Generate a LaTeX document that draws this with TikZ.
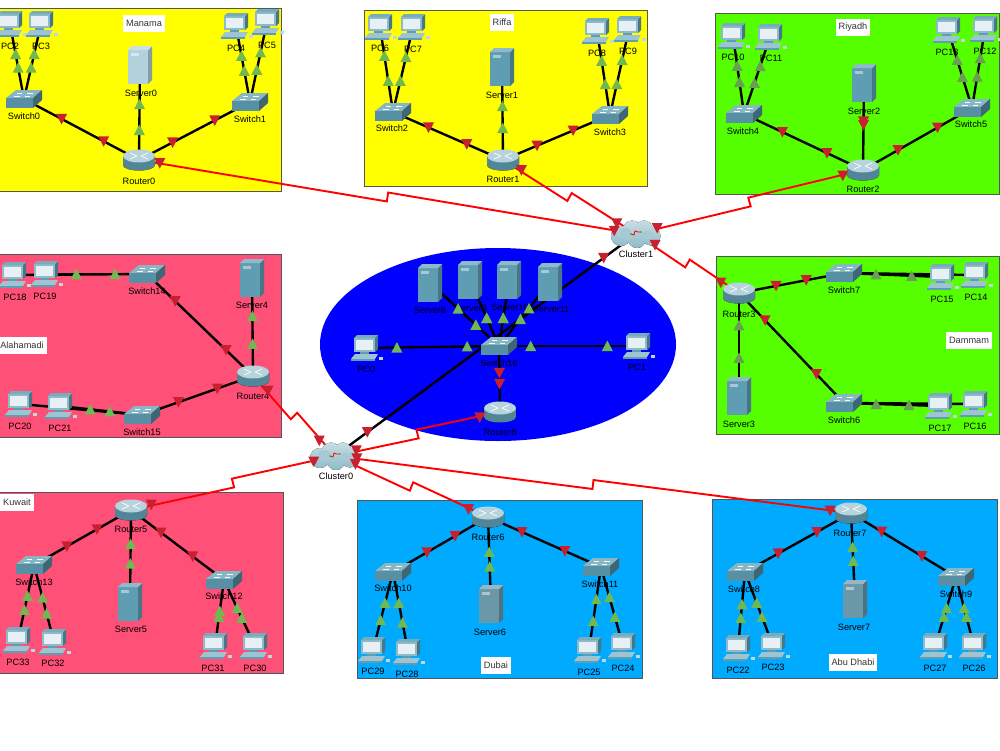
\documentclass[tikz,border=0pt]{standalone}
\usepackage{fontspec}
\setmainfont{Liberation Sans}
\usetikzlibrary{calc}

\definecolor{zoneyellow}{HTML}{FFFF00}
\definecolor{zonegreen}{HTML}{55FF00}
\definecolor{zonepink}{HTML}{FF5078}
\definecolor{zoneblue}{HTML}{00AAFF}
\definecolor{coreblue}{HTML}{0000FF}
\definecolor{zoneedge}{HTML}{555555}
\definecolor{triared}{HTML}{C8202F}
\definecolor{triagreen}{HTML}{70B850}
\definecolor{triadim}{HTML}{689F55}
\definecolor{srvteal}{HTML}{5F9DB2}
\definecolor{srvgray}{HTML}{6A98A8}
\definecolor{srvpale}{HTML}{B3D1DC}

\pgfdeclarelayer{zones}
\pgfdeclarelayer{links}
\pgfdeclarelayer{marks}
\pgfsetlayers{zones,links,main,marks}

\newcommand{\pcicon}{%
  \begin{scope}[shift={(path picture bounding box.center)},x=1pt,y=-1pt]
    \fill[srvteal!70!white] (-12,-10) rectangle (9,4);
    \fill[srvteal!75!black] (9,-10) -- (12,-13) -- (12,1) -- (9,4) -- cycle;
    \fill[srvteal!85!white] (-12,-10) -- (-9,-13) -- (12,-13) -- (9,-10) -- cycle;
    \fill[white!85!srvteal] (-10,-8) rectangle (7,2);
    \fill[srvteal] (-6,4) rectangle (3,6);
    \fill[srvteal!60!white] (-15,11) -- (-11,6) -- (12,6) -- (9,11) -- cycle;
    \fill[srvteal] (-15,11) rectangle (9,13);
    \fill[white!60!srvteal] (13,9) rectangle (17,12);
  \end{scope}}
\newcommand{\servericon}[1]{%
  \begin{scope}[shift={(path picture bounding box.center)},x=1pt,y=-1pt]
    \fill[#1] (-12,-15) rectangle (8,19);
    \fill[#1!75!black] (8,-15) -- (12,-19) -- (12,15) -- (8,19) -- cycle;
    \fill[#1!70!white] (-12,-15) -- (-8,-19) -- (12,-19) -- (8,-15) -- cycle;
    \fill[#1!55!white] (-9,-12) rectangle (-1,-9);
  \end{scope}}
\newcommand{\switchicon}{%
  \begin{scope}[shift={(path picture bounding box.center)},x=1pt,y=-1pt]
    \fill[srvteal!75!white] (-18,-1) -- (-8,-9) -- (18,-9) -- (9,-1) -- cycle;
    \fill[srvteal!92!black] (-18,-1) rectangle (9,9);
    \fill[srvteal!65!black] (9,-1) -- (18,-9) -- (18,1) -- (9,9) -- cycle;
    \draw[white,line width=.6pt] (-7,-6) -- (-2,-6) (3,-6) -- (9,-6) (-10,-3) -- (-4,-3) (1,-3) -- (6,-3);
  \end{scope}}
\newcommand{\routericon}{%
  \begin{scope}[shift={(path picture bounding box.center)},x=1pt,y=-1pt]
    \fill[left color=srvteal!85!black,middle color=white!95!srvteal,right color=srvteal!85!black]
      (-16,-4) -- (-16,5) arc[start angle=180,end angle=360,x radius=16pt,y radius=5.5pt] -- (16,-4) -- cycle;
    \fill[srvteal!45!white] (0,-4) ellipse[x radius=16pt,y radius=6.5pt];
    \draw[white,line width=.7pt] (-9,-7) -- (-2,-4) (9,-7) -- (2,-4) (-9,-1) -- (-2,-4) (9,-1) -- (2,-4);
  \end{scope}}
\newcommand{\cloudicon}{%
  \begin{scope}[shift={(path picture bounding box.center)},x=1pt,y=-1pt]
    \fill[top color=srvteal!35!white,bottom color=srvteal!70!white]
      (-15,2) circle (10pt) (-4,-4) circle (9.5pt) (8,-5) circle (8.5pt) (15,2) circle (9.5pt) (1,5) circle (9pt);
    \fill[srvteal!55!white] (-11,-2) ellipse[x radius=6pt,y radius=4pt];
    \fill[srvteal!55!white] (11,1) ellipse[x radius=6pt,y radius=4pt];
    \draw[red,line width=.8pt] (-5,0) -- (-2,1) -- (-1,-3) -- (2,-2) -- (5,-2);
    \fill[green!80!black] (-5,0) circle (.9pt) (5,-2) circle (.9pt);
  \end{scope}}

% link under the icons, its two triangles above them
\newcommand{\ethernet}[5]{%
  \begin{pgfonlayer}{links}
    \draw[ethlink] (#1.center) -- (#2.center);
  \end{pgfonlayer}
  \begin{pgfonlayer}{marks}
    \path (#1) -- pic[pos=#4]{#3} pic[pos=#5]{#3} (#2);
  \end{pgfonlayer}}
\newcommand{\hiddenlink}[2]{%
  \begin{pgfonlayer}{links}
    \draw[ethlink] (#1.center) -- (#2.center);
  \end{pgfonlayer}}
\newcommand{\serial}[2]{%
  \begin{pgfonlayer}{links}
    \draw[seriallink] (#1.center) -- ($(#1)!.5!(#2)!4.5pt!-90:(#2)$) -- ($(#1)!.5!(#2)!4.5pt!90:(#2)$) -- (#2.center);
  \end{pgfonlayer}
  \begin{pgfonlayer}{marks}
    \pic at ($(#1)!21pt!(#2)$) {redtri};
    \pic at ($(#2)!22pt!(#1)$) {redtri};
  \end{pgfonlayer}}

\tikzset{
  zone/.style={draw=zoneedge,line width=1pt},
  zonetag/.style={fill=white,text=black!80,font=\fontsize{9.2}{11}\selectfont,inner xsep=3pt,inner ysep=0pt,minimum height=17pt},
  devlabel/.style={text=black,font=\fontsize{9.2}{11}\selectfont,inner sep=0pt},
  pcnode/.style={rectangle,inner sep=0pt,minimum width=34pt,minimum height=26pt,path picture={\pcicon}},
  servernode/.style={rectangle,inner sep=0pt,minimum width=24pt,minimum height=38pt,path picture={\servericon{#1}}},
  servernode/.default=srvteal,
  switchnode/.style={rectangle,inner sep=0pt,minimum width=36pt,minimum height=18pt,path picture={\switchicon}},
  routernode/.style={rectangle,inner sep=0pt,minimum width=33pt,minimum height=22pt,path picture={\routericon}},
  cloudnode/.style={rectangle,inner sep=0pt,minimum width=50pt,minimum height=28pt,path picture={\cloudicon}},
  ethlink/.style={draw=black,line width=2.4pt},
  seriallink/.style={draw=red,line width=1.9pt},
  redtri/.pic={\fill[triared] (-5.5,-5) -- (5.5,-5) -- (0,5.5) -- cycle;},
  greentri/.pic={\fill[triagreen] (-5.5,5) -- (5.5,5) -- (0,-5.5) -- cycle;},
  dimtri/.pic={\fill[triadim] (-5.5,5) -- (5.5,5) -- (0,-5.5) -- cycle;},
}

\begin{document}
\begin{tikzpicture}[x=1pt,y=-1pt]
\useasboundingbox (0,0) rectangle (1000,750);

% zones
\begin{pgfonlayer}{zones}
\fill[zone,fill=zoneyellow] (-2,8) rectangle (281,191);
\fill[zone,fill=zoneyellow] (364,10) rectangle (647,186);
\fill[zone,fill=zonegreen] (715,13) rectangle (999,194);
\fill[zone,fill=zonegreen] (716,256) rectangle (999,434);
\fill[zone,fill=zonepink] (-2,254) rectangle (281,437);
\fill[zone,fill=zonepink] (-2,492) rectangle (283,673);
\fill[zone,fill=zoneblue] (357,500) rectangle (642,678);
\fill[zone,fill=zoneblue] (712,499) rectangle (997,678);
\fill[coreblue] (498,344.5) ellipse[x radius=178pt,y radius=96.5pt];
\node[zonetag] (tagManama) at (144,23.5) {Manama};
\node[zonetag] (tagRiffa) at (502,22.5) {Riffa};
\node[zonetag] (tagRiyadh) at (853,27.5) {Riyadh};
\node[zonetag] (tagDammam) at (969,340) {Dammam};
\node[zonetag] (tagAlahamadi) at (22,345) {Alahamadi};
\node[zonetag] (tagKuwait) at (17,502) {Kuwait};
\node[zonetag] (tagDubai) at (496,665.5) {Dubai};
\node[zonetag] (tagAbuDhabi) at (853,662) {Abu Dhabi};
\node[devlabel] (Cluster0lbl) at (336,476) {Cluster0};
\node[devlabel] (Cluster1lbl) at (636,254) {Cluster1};
\node[devlabel] (Server8lbl) at (430,310) {Server8};
\node[devlabel] (Server9lbl) at (471,308) {Server9};
\node[devlabel] (Server10lbl) at (510,307) {Server10};
\node[devlabel] (Server11lbl) at (551,309) {Server11};
\node[devlabel] (PC0lbl) at (366,369) {PC0};
\node[devlabel] (PC1lbl) at (637,367) {PC1};
\node[devlabel] (Switch16lbl) at (499,363) {Switch16};
\node[devlabel] (Router8lbl) at (500,432) {Router8};
\node[devlabel] (PC2lbl) at (10,46) {PC2};
\node[devlabel] (PC3lbl) at (41,46) {PC3};
\node[devlabel] (PC4lbl) at (236,48) {PC4};
\node[devlabel] (PC5lbl) at (267,45) {PC5};
\node[devlabel] (Server0lbl) at (141,93) {Server0};
\node[devlabel] (Switch0lbl) at (24,116) {Switch0};
\node[devlabel] (Switch1lbl) at (250,119) {Switch1};
\node[devlabel] (Router0lbl) at (139,181) {Router0};
\node[devlabel] (PC6lbl) at (380,48) {PC6};
\node[devlabel] (PC7lbl) at (413,49) {PC7};
\node[devlabel] (PC8lbl) at (597,53) {PC8};
\node[devlabel] (PC9lbl) at (628,51) {PC9};
\node[devlabel] (Server1lbl) at (502,95) {Server1};
\node[devlabel] (Switch2lbl) at (392,128) {Switch2};
\node[devlabel] (Switch3lbl) at (610,132) {Switch3};
\node[devlabel] (Router1lbl) at (503,179) {Router1};
\node[devlabel] (PC10lbl) at (733,57) {PC10};
\node[devlabel] (PC11lbl) at (771,58) {PC11};
\node[devlabel] (PC13lbl) at (947,52) {PC13};
\node[devlabel] (PC12lbl) at (985,51) {PC12};
\node[devlabel] (Server2lbl) at (864,111) {Server2};
\node[devlabel] (Switch4lbl) at (743,131) {Switch4};
\node[devlabel] (Switch5lbl) at (971,124) {Switch5};
\node[devlabel] (Router2lbl) at (863,189) {Router2};
\node[devlabel] (PC14lbl) at (976,297) {PC14};
\node[devlabel] (PC15lbl) at (942,299) {PC15};
\node[devlabel] (PC16lbl) at (975,426) {PC16};
\node[devlabel] (PC17lbl) at (940,428) {PC17};
\node[devlabel] (Server3lbl) at (739,424) {Server3};
\node[devlabel] (Switch7lbl) at (844,290) {Switch7};
\node[devlabel] (Switch6lbl) at (844,420) {Switch6};
\node[devlabel] (Router3lbl) at (739,314) {Router3};
\node[devlabel] (PC18lbl) at (15,297) {PC18};
\node[devlabel] (PC19lbl) at (45,296) {PC19};
\node[devlabel] (PC20lbl) at (20,426) {PC20};
\node[devlabel] (PC21lbl) at (60,428) {PC21};
\node[devlabel] (Server4lbl) at (252,305) {Server4};
\node[devlabel] (Switch14lbl) at (147,291) {Switch14};
\node[devlabel] (Switch15lbl) at (142,432) {Switch15};
\node[devlabel] (Router4lbl) at (253,396) {Router4};
\node[devlabel] (Router5lbl) at (131,529) {Router5};
\node[devlabel] (Switch13lbl) at (34,582) {Switch13};
\node[devlabel] (Switch12lbl) at (224,596) {Switch12};
\node[devlabel] (Server5lbl) at (131,629) {Server5};
\node[devlabel] (PC33lbl) at (18,662) {PC33};
\node[devlabel] (PC32lbl) at (53,663) {PC32};
\node[devlabel] (PC31lbl) at (213,668) {PC31};
\node[devlabel] (PC30lbl) at (255,668) {PC30};
\node[devlabel] (Router6lbl) at (488,537) {Router6};
\node[devlabel] (Switch10lbl) at (393,588) {Switch10};
\node[devlabel] (Switch11lbl) at (600,584) {Switch11};
\node[devlabel] (Server6lbl) at (490,632) {Server6};
\node[devlabel] (PC29lbl) at (373,671) {PC29};
\node[devlabel] (PC28lbl) at (407,674) {PC28};
\node[devlabel] (PC25lbl) at (589,672) {PC25};
\node[devlabel] (PC24lbl) at (623,668) {PC24};
\node[devlabel] (Router7lbl) at (850,533) {Router7};
\node[devlabel] (Switch8lbl) at (744,589) {Switch8};
\node[devlabel] (Switch9lbl) at (956,594) {Switch9};
\node[devlabel] (Server7lbl) at (854,627) {Server7};
\node[devlabel] (PC22lbl) at (738,670) {PC22};
\node[devlabel] (PC23lbl) at (773,667) {PC23};
\node[devlabel] (PC27lbl) at (935,668) {PC27};
\node[devlabel] (PC26lbl) at (974,668) {PC26};
\end{pgfonlayer}

% clusters
\node[cloudnode] (Cluster0) at (335,456) {};
\node[cloudnode] (Cluster1) at (636,234) {};
\ethernet{Cluster0}{Cluster1}{redtri}{.05}{.95}

% core
\node[servernode] (Server8) at (430,283) {};
\node[servernode] (Server9) at (470,280) {};
\node[servernode] (Server10) at (509,280) {};
\node[servernode] (Server11) at (550,282) {};
\node[pcnode] (PC0) at (366,348) {};
\node[pcnode] (PC1) at (638,346) {};
\node[switchnode] (Switch16) at (499,346) {};
\node[routernode] (Router8) at (500,412) {};
\ethernet{Server8}{Switch16}{greentri}{.34}{.72}
\ethernet{Server9}{Switch16}{greentri}{.5}{.5}
\ethernet{Server10}{Switch16}{greentri}{.5}{.5}
\ethernet{Server11}{Switch16}{greentri}{.28}{.55}
\ethernet{PC0}{Switch16}{greentri}{.14}{.86}
\ethernet{Switch16}{PC1}{greentri}{.13}{.87}
\ethernet{Switch16}{Router8}{redtri}{.39}{.63}

% Manama
\node[pcnode] (PC2) at (10,24) {};
\node[pcnode] (PC3) at (41,24) {};
\node[pcnode] (PC4) at (236,26) {};
\node[pcnode] (PC5) at (267,22) {};
\node[servernode=srvpale] (Server0) at (140,65) {};
\node[switchnode] (Switch0) at (24,99) {};
\node[switchnode] (Switch1) at (250,102) {};
\node[routernode] (Router0) at (139,160) {};
\ethernet{PC2}{Switch0}{greentri}{.32}{.58}
\ethernet{PC3}{Switch0}{greentri}{.32}{.58}
\ethernet{PC4}{Switch1}{greentri}{.31}{.59}
\ethernet{PC5}{Switch1}{greentri}{.3}{.6}
\ethernet{Server0}{Router0}{greentri}{.31}{.71}
\ethernet{Switch0}{Router0}{redtri}{.25}{.77}
\ethernet{Switch1}{Router0}{redtri}{.23}{.78}

% Riffa
\node[pcnode] (PC6) at (380,27) {};
\node[pcnode] (PC7) at (413,27) {};
\node[pcnode] (PC8) at (597,31) {};
\node[pcnode] (PC9) at (629,29) {};
\node[servernode] (Server1) at (502,67) {};
\node[switchnode] (Switch2) at (393,112) {};
\node[switchnode] (Switch3) at (610,115) {};
\node[routernode] (Router1) at (503,160) {};
\ethernet{PC6}{Switch2}{greentri}{.25}{.65}
\ethernet{PC7}{Switch2}{greentri}{.27}{.65}
\ethernet{PC8}{Switch3}{greentri}{.27}{.65}
\ethernet{PC9}{Switch3}{greentri}{.28}{.66}
\ethernet{Server1}{Router1}{greentri}{.32}{.67}
\ethernet{Switch2}{Router1}{redtri}{.23}{.74}
\ethernet{Switch3}{Router1}{redtri}{.26}{.76}

% Riyadh
\node[pcnode] (PC10) at (733,36) {};
\node[pcnode] (PC11) at (770,37) {};
\node[pcnode] (PC13) at (948,30) {};
\node[pcnode] (PC12) at (985,29) {};
\node[servernode] (Server2) at (864,83) {};
\node[switchnode] (Switch4) at (744,114) {};
\node[switchnode] (Switch5) at (972,108) {};
\node[routernode] (Router2) at (863,170) {};
\ethernet{PC10}{Switch4}{dimtri}{.3}{.59}
\ethernet{PC11}{Switch4}{dimtri}{.29}{.6}
\ethernet{PC13}{Switch5}{dimtri}{.3}{.61}
\ethernet{PC12}{Switch5}{dimtri}{.28}{.61}
\ethernet{Server2}{Router2}{redtri}{.34}{.4}
\ethernet{Switch4}{Router2}{redtri}{.24}{.77}
\ethernet{Switch5}{Router2}{redtri}{.24}{.76}

% Dammam
\node[pcnode] (PC14) at (976,275) {};
\node[pcnode] (PC16) at (975,404) {};
\node[switchnode] (Switch7) at (844,273) {};
\node[switchnode] (Switch6) at (844,403) {};
\node[pcnode] (PC15) at (942,277) {};
\node[pcnode] (PC17) at (940,406) {};
\node[servernode] (Server3) at (739,396) {};
\node[routernode] (Router3) at (739,293) {};
\hiddenlink{Switch7}{PC14}
\hiddenlink{Switch6}{PC16}
\ethernet{Switch7}{PC15}{dimtri}{.22}{.79}
\ethernet{Switch6}{PC17}{dimtri}{.23}{.77}
\ethernet{Server3}{Router3}{dimtri}{.26}{.71}
\ethernet{Router3}{Switch7}{redtri}{.29}{.72}
\ethernet{Router3}{Switch6}{redtri}{.18}{.78}

% Alahamadi
\node[pcnode] (PC18) at (14,275) {};
\node[pcnode] (PC20) at (20,404) {};
\node[switchnode] (Switch14) at (147,274) {};
\node[switchnode] (Switch15) at (142,415) {};
\node[pcnode] (PC19) at (46,274) {};
\node[pcnode] (PC21) at (60,406) {};
\node[servernode] (Server4) at (252,278) {};
\node[routernode] (Router4) at (253,376) {};
\hiddenlink{PC18}{Switch14}
\hiddenlink{PC20}{Switch15}
\ethernet{PC19}{Switch14}{greentri}{.2}{.79}
\ethernet{PC21}{Switch15}{greentri}{.28}{.7}
\ethernet{Server4}{Router4}{greentri}{.28}{.69}
\ethernet{Switch14}{Router4}{redtri}{.22}{.82}
\ethernet{Switch15}{Router4}{redtri}{.24}{.75}

% Kuwait
\node[routernode] (Router5) at (131,510) {};
\node[switchnode] (Switch13) at (34,565) {};
\node[switchnode] (Switch12) at (224,580) {};
\node[servernode] (Server5) at (130,602) {};
\node[pcnode] (PC33) at (18,640) {};
\node[pcnode] (PC32) at (54,642) {};
\node[pcnode] (PC31) at (215,646) {};
\node[pcnode] (PC30) at (255,646) {};
\ethernet{Switch13}{Router5}{redtri}{.26}{.73}
\ethernet{Router5}{Switch12}{redtri}{.23}{.71}
\ethernet{Server5}{Router5}{greentri}{.31}{.63}
\ethernet{Switch13}{PC33}{greentri}{.41}{.68}
\ethernet{Switch13}{PC32}{greentri}{.43}{.72}
\ethernet{Switch12}{PC31}{greentri}{.5}{.64}
\ethernet{Switch12}{PC30}{greentri}{.43}{.66}

% Dubai
\node[routernode] (Router6) at (488,517) {};
\node[switchnode] (Switch10) at (393,572) {};
\node[switchnode] (Switch11) at (601,567) {};
\node[servernode=srvgray] (Server6) at (491,604) {};
\node[pcnode] (PC29) at (373,650) {};
\node[pcnode] (PC28) at (408,652) {};
\node[pcnode] (PC25) at (589,650) {};
\node[pcnode] (PC24) at (623,646) {};
\ethernet{Switch10}{Router6}{redtri}{.29}{.74}
\ethernet{Router6}{Switch11}{redtri}{.22}{.77}
\ethernet{Server6}{Router6}{greentri}{.32}{.58}
\ethernet{Switch10}{PC29}{greentri}{.39}{.7}
\ethernet{Switch10}{PC28}{greentri}{.38}{.72}
\ethernet{Switch11}{PC25}{greentri}{.38}{.74}
\ethernet{Switch11}{PC24}{greentri}{.37}{.72}

% Abu Dhabi
\node[routernode] (Router7) at (851,513) {};
\node[switchnode] (Switch8) at (745,572) {};
\node[switchnode] (Switch9) at (956,577) {};
\node[servernode=srvgray] (Server7) at (855,599) {};
\node[pcnode] (PC22) at (738,648) {};
\node[pcnode] (PC23) at (773,646) {};
\node[pcnode] (PC27) at (935,646) {};
\node[pcnode] (PC26) at (974,646) {};
\ethernet{Switch8}{Router7}{redtri}{.23}{.76}
\ethernet{Router7}{Switch9}{redtri}{.19}{.74}
\ethernet{Server7}{Router7}{greentri}{.34}{.59}
\ethernet{Switch8}{PC22}{greentri}{.43}{.69}
\ethernet{Switch8}{PC23}{greentri}{.42}{.69}
\ethernet{Switch9}{PC27}{greentri}{.47}{.66}
\ethernet{Switch9}{PC26}{greentri}{.47}{.66}

% serial links
\serial{Router0}{Cluster1}
\serial{Router1}{Cluster1}
\serial{Router2}{Cluster1}
\serial{Router3}{Cluster1}
\serial{Router4}{Cluster0}
\serial{Router5}{Cluster0}
\serial{Router6}{Cluster0}
\serial{Router7}{Cluster0}
\serial{Router8}{Cluster0}
\end{tikzpicture}
\end{document}
